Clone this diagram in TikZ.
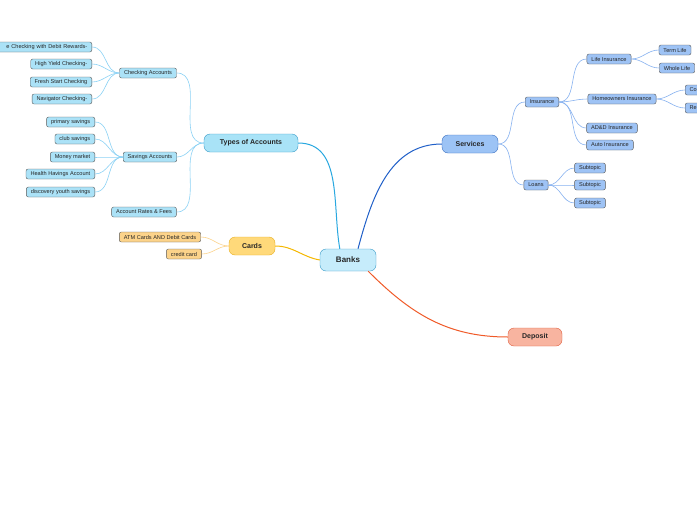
\documentclass[tikz,border=0pt]{standalone}
\usepackage{fontspec}
\setmainfont{Liberation Sans}
\begin{document}
\begin{tikzpicture}[x=1pt,y=-1pt,
 base/.style={draw, rounded corners=2pt, inner sep=0pt, font=\fontsize{5.6}{6.5}\selectfont, text=black!85},
 main/.style={base, rounded corners=6pt, minimum height=18pt, font=\fontsize{7}{8}\selectfont\bfseries},
 tleaf/.style={base, fill={rgb,255:red,171;green,226;blue,247}, draw=gray!70!black, minimum height=10pt, inner xsep=4.5pt},
 sleaf/.style={base, fill={rgb,255:red,158;green,195;blue,245}, draw=gray!70!black, minimum height=10pt, inner xsep=4.5pt},
 cleaf/.style={base, fill={rgb,255:red,252;green,211;blue,138}, draw=gray!70!black, minimum height=10pt, inner xsep=4.5pt},
 tl/.style={draw={rgb,255:red,140;green,210;blue,245}, line width=0.6pt},
 sl/.style={draw={rgb,255:red,135;green,178;blue,240}, line width=0.6pt},
 cl/.style={draw={rgb,255:red,252;green,211;blue,138}, line width=0.6pt}]
\useasboundingbox (0,0) rectangle (697,520);
\clip (0,0) rectangle (697,520);
\fill[white] (0,0) rectangle (697,520);
% main
\node[main, fill={rgb,255:red,198;green,236;blue,251}, draw={rgb,255:red,58;green,156;blue,200}, minimum width=56pt, minimum height=22pt, font=\fontsize{8}{9}\selectfont\bfseries] (banks) at (348,260) {Banks};
\node[main, fill={rgb,255:red,169;green,227;blue,247}, draw={rgb,255:red,58;green,156;blue,200}, minimum width=94pt] (types) at (251,143) {Types of Accounts};
\node[main, fill={rgb,255:red,156;green,195;blue,245}, draw={rgb,255:red,58;green,111;blue,192}, minimum width=56pt] (serv) at (470,144) {Services};
\node[main, fill={rgb,255:red,255;green,217;blue,122}, draw={rgb,255:red,232;green,176;blue,32}, minimum width=46pt] (cards) at (252,246) {Cards};
\node[main, fill={rgb,255:red,248;green,180;blue,160}, draw={rgb,255:red,224;green,96;blue,64}, minimum width=54pt] (dep) at (535,337) {Deposit};
\draw[line width=1pt,draw={rgb,255:red,41;green,168;blue,224}] (banks.north west) ++(20,0) to[out=100,in=0] (types.east);
\draw[line width=1pt,draw={rgb,255:red,31;green,95;blue,200}] (banks.north) ++(10,0) to[out=75,in=180] (serv.west);
\draw[line width=1pt,draw={rgb,255:red,245;green,184;blue,0}] (banks.west) to[out=170,in=0] (cards.east);
\draw[line width=1pt,draw={rgb,255:red,240;green,90;blue,40}] (banks.south east) ++(-8,0) to[out=-45,in=180] (dep.west);
% types
\node[tleaf] (chk) at (148,73) {Checking Accounts};
\node[tleaf] (sav) at (150,157) {Savings Accounts};
\node[tleaf] (arf) at (144,212) {Account Rates \& Fees};
\foreach \n in {chk,sav,arf} \draw[tl] (types.west) to[out=180,in=0] (\n.east);
\node[tleaf, anchor=east, align=right, text width=90pt] (c1) at (92,47) {e Checking with Debit Rewards-};
\node[tleaf, anchor=east] (c2) at (92,64) {High Yield Checking-};
\node[tleaf, anchor=east] (c3) at (92,82) {Fresh Start Checking};
\node[tleaf, anchor=east] (c4) at (92,99) {Navigator Checking-};
\foreach \n in {c1,c2,c3,c4} \draw[tl] (chk.west) to[out=180,in=0] (\n.east);
\node[tleaf, anchor=east] (s1) at (95,122) {primary savings};
\node[tleaf, anchor=east] (s2) at (95,139) {club savings};
\node[tleaf, anchor=east] (s3) at (95,157) {Money market};
\node[tleaf, anchor=east] (s4) at (95,174) {Health Havings Account};
\node[tleaf, anchor=east] (s5) at (95,192) {discovery youth savings};
\foreach \n in {s1,s2,s3,s4,s5} \draw[tl] (sav.west) to[out=180,in=0] (\n.east);
% cards
\node[cleaf] (atm) at (160,237) {ATM Cards AND Debit Cards};
\node[cleaf] (cc) at (184,254) {credit card};
\foreach \n in {atm,cc} \draw[cl] (cards.west) to[out=180,in=0] (\n.east);
% services
\node[sleaf] (ins) at (542,102) {Insurance};
\node[sleaf] (loans) at (536,185) {Loans};
\foreach \n in {ins,loans} \draw[sl] (serv.east) to[out=0,in=180] (\n.west);
\node[sleaf] (life) at (609,59) {Life Insurance};
\node[sleaf] (home) at (622,99) {Homeowners Insurance};
\node[sleaf] (add) at (612,128) {AD\&D Insurance};
\node[sleaf] (auto) at (610,145) {Auto Insurance};
\foreach \n in {life,home,add,auto} \draw[sl] (ins.east) to[out=0,in=180] (\n.west);
\node[sleaf] (term) at (675,50) {Term Life};
\node[sleaf] (whole) at (677,68) {Whole Life};
\foreach \n in {term,whole} \draw[sl] (life.east) to[out=0,in=180] (\n.west);
\node[sleaf, anchor=west, align=left, text width=24pt] (co) at (685,90) {Co};
\node[sleaf, anchor=west, align=left, text width=24pt] (re) at (685,108) {Re};
\foreach \n in {co,re} \draw[sl] (home.east) to[out=0,in=180] (\n.west);
\node[sleaf] (st1) at (590,168) {Subtopic};
\node[sleaf] (st2) at (590,185) {Subtopic};
\node[sleaf] (st3) at (590,203) {Subtopic};
\foreach \n in {st1,st2,st3} \draw[sl] (loans.east) to[out=0,in=180] (\n.west);
\end{tikzpicture}
\end{document}
